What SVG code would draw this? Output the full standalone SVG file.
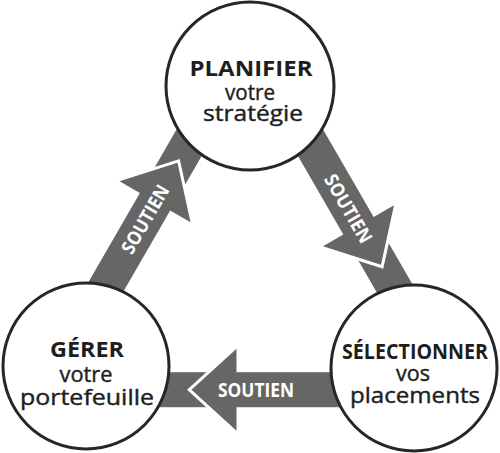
<svg xmlns="http://www.w3.org/2000/svg" width="500" height="453" viewBox="0 0 500 453">
  <style>
    .shaft { fill: #666666; }
    .head { fill: #666666; }
    .edge { fill: none; stroke: #ffffff; stroke-width: 6; stroke-linejoin: miter; }
    .lbl { font-family: "Open Sans", "Liberation Sans", sans-serif; font-weight: 700; font-size: 19px; fill: #ffffff; text-anchor: middle; }
    .ring { fill: #ffffff; stroke: #262626; stroke-width: 3; }
    .title { font-family: "Open Sans", "Liberation Sans", sans-serif; font-weight: 700; font-size: 22px; fill: #1e1e1e; text-anchor: middle; }
    .sub { font-family: "Open Sans", "Liberation Sans", sans-serif; font-weight: 400; font-size: 21px; fill: #1e1e1e; stroke: #1e1e1e; stroke-width: 0.4; text-anchor: middle; }
  </style>
  <defs>
    <g id="arrow">
      <rect class="shaft" x="0" y="-17.5" width="407" height="35"/>
      <polyline class="edge" points="217,-41 262,0 217,41"/>
      <polygon class="head" points="217,-41 262,0 217,41"/>
    </g>
  </defs>

  <g id="connectors">
    <g id="arrow-gerer-planifier" transform="translate(46.5,389.7) rotate(-60)">
      <use href="#arrow"/>
      <text class="lbl" x="197" y="7" textLength="76" lengthAdjust="spacingAndGlyphs">SOUTIEN</text>
    </g>
    <g id="arrow-planifier-selectionner" transform="translate(250,37.9) rotate(60)">
      <use href="#arrow"/>
      <text class="lbl" x="197" y="7" textLength="76" lengthAdjust="spacingAndGlyphs">SOUTIEN</text>
    </g>
    <g id="arrow-selectionner-gerer">
      <use href="#arrow" transform="translate(453.5,389.7) rotate(180)"/>
      <text class="lbl" x="256" y="397" textLength="76" lengthAdjust="spacingAndGlyphs">SOUTIEN</text>
    </g>
  </g>

  <g id="node-planifier">
    <circle class="ring" cx="250" cy="86" r="84"/>
    <text class="title" x="251" y="76" textLength="123" lengthAdjust="spacingAndGlyphs">PLANIFIER</text>
    <text class="sub" x="250" y="100" textLength="50" lengthAdjust="spacingAndGlyphs">votre</text>
    <text class="sub" x="253" y="121" textLength="100" lengthAdjust="spacingAndGlyphs">stratégie</text>
  </g>

  <g id="node-gerer">
    <circle class="ring" cx="86" cy="366" r="83"/>
    <text class="title" x="87" y="357" textLength="74" lengthAdjust="spacingAndGlyphs">GÉRER</text>
    <text class="sub" x="86" y="382" textLength="53" lengthAdjust="spacingAndGlyphs">votre</text>
    <text class="sub" x="87" y="405" textLength="134" lengthAdjust="spacingAndGlyphs">portefeuille</text>
  </g>

  <g id="node-selectionner">
    <circle class="ring" cx="414" cy="368" r="83"/>
    <text class="title" x="415" y="359" textLength="146" lengthAdjust="spacingAndGlyphs">SÉLECTIONNER</text>
    <text class="sub" x="413" y="381" textLength="34" lengthAdjust="spacingAndGlyphs">vos</text>
    <text class="sub" x="415" y="403" textLength="130" lengthAdjust="spacingAndGlyphs">placements</text>
  </g>
</svg>
